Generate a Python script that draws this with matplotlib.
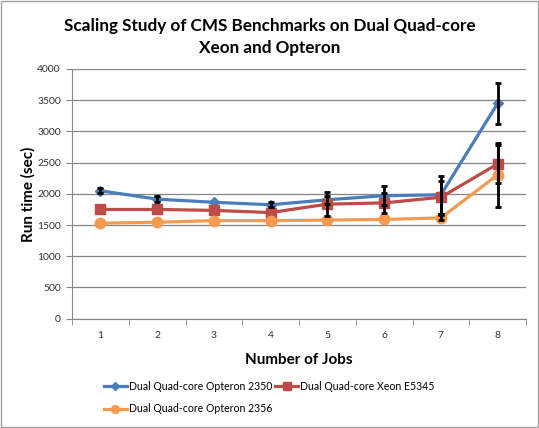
import numpy as np
import matplotlib
matplotlib.use("Agg")
import matplotlib.pyplot as plt
from matplotlib.ticker import FixedLocator

jobs = [1, 2, 3, 4, 5, 6, 7, 8]

opteron_2350 = [2050, 1915, 1865, 1825, 1905, 1970, 1985, 3450]
xeon_e5345 = [1750, 1750, 1735, 1700, 1835, 1855, 1945, 2480]
opteron_2356 = [1530, 1545, 1570, 1570, 1580, 1590, 1615, 2305]

err_2350 = [40, 50, 0, 40, 60, 150, 300, 325]
err_e5345 = [0, 0, 0, 0, 195, 160, 260, 310]
err_2356 = [0, 0, 0, 0, 0, 0, 40, 510]

labels = ["Dual Quad-core Opteron 2350", "Dual Quad-core Xeon E5345",
          "Dual Quad-core Opteron 2356"]

plt.rcParams["font.family"] = ["Lato", "DejaVu Sans"]

fig = plt.figure(figsize=(5.39, 4.28), dpi=100)
ax = fig.add_axes([0.1336, 0.2554, 0.8424, 0.5834])

# outer frame like the Excel chart area
fig.patches.append(plt.Rectangle((0.002, 0.002), 0.996, 0.996, transform=fig.transFigure,
                                 fill=False, edgecolor="#a0a0a0", lw=1))

styles = [
    (opteron_2350, err_2350, "#4a7ebb", "D", 5.5),
    (xeon_e5345, err_e5345, "#be4b48", "s", 7.5),
    (opteron_2356, err_2356, "#f59a4f", "o", 7.5),
]

handles = []
for (vals, err, col, mk, ms), lab in zip(styles, labels):
    h, = ax.plot(jobs, vals, color=col, lw=2.3, marker=mk, ms=ms,
                 label=lab, zorder=3)
    handles.append(h)

for vals, err, col, mk, ms in styles:
    e = np.array(err)
    idx = e > 0
    ax.errorbar(np.array(jobs)[idx], np.array(vals)[idx], yerr=e[idx], fmt="none",
                ecolor="black", elinewidth=2, capsize=2.5, capthick=2, zorder=4)

ax.set_xlim(0.5, 8.5)
ax.set_ylim(0, 4000)
ax.set_yticks(np.arange(0, 4001, 500))
ax.set_xticks(jobs)
ax.xaxis.set_minor_locator(FixedLocator(np.arange(0.5, 8.6, 1)))
ax.tick_params(axis="x", which="major", length=0, pad=9, labelsize=7.5, colors="#333333")
ax.tick_params(axis="x", which="minor", length=4, color="#868686")
ax.tick_params(axis="y", length=4, color="#868686", labelsize=7.5, colors="#333333", pad=4)
ax.grid(axis="y", color="#868686", lw=0.9)
ax.set_axisbelow(True)
for s in ["top", "right"]:
    ax.spines[s].set_visible(False)
for s in ["left", "bottom"]:
    ax.spines[s].set_color("#868686")

ax.set_xlabel("Number of Jobs", fontsize=11, fontweight="bold", labelpad=9)
ax.set_ylabel("Run time (sec)", fontsize=11, fontweight="bold", labelpad=1)

fig.suptitle("Scaling Study of CMS Benchmarks on Dual Quad-core\nXeon and Opteron",
             fontsize=12.3, fontweight="bold", y=0.958, linespacing=1.45)

fig.legend([handles[0], handles[2], handles[1]],
           [labels[0], labels[2], labels[1]],
           ncol=2, loc="lower left", bbox_to_anchor=(0.175, 0.01), frameon=False,
           fontsize=7.6, handlelength=2.2, handletextpad=0.15, columnspacing=0.3,
           labelspacing=1.05, markerscale=0.75)

fig.savefig("out.png", dpi=100)
